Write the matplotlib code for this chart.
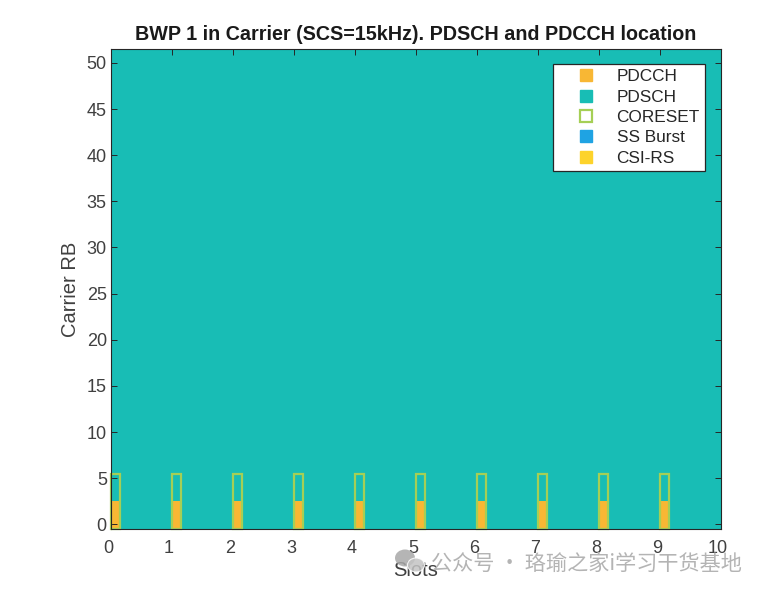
import matplotlib
matplotlib.use("Agg")
import matplotlib.pyplot as plt
from matplotlib.lines import Line2D
from matplotlib.patches import Ellipse, Rectangle
from matplotlib.transforms import ScaledTranslation

# Slots and RB extents
slots = [0, 1, 2, 3, 4, 5, 6, 7, 8, 9]
n_slots = 10
n_rb = 52
symbols_per_slot = 14
coreset_symbols = 2
coreset_rbs = 6
pdcch_rbs = 3

xticks = list(range(0, 11))
yticks = list(range(0, 51, 5))
legend_names = ["PDCCH", "PDSCH", "CORESET", "SS Burst", "CSI-RS"]

teal = "#18BDB5"
orange = "#F8B734"
green = "#A5CF55"
blue = "#1FA3E3"
yellow = "#FDD32B"
text_col = "#404040"

plt.rcParams["font.family"] = ["Liberation Sans", "DejaVu Sans"]

fig = plt.figure(figsize=(7.67, 5.93), dpi=100)
ax = fig.add_axes([111 / 767, 1 - 529 / 593, 610 / 767, 480 / 593])

ax.add_patch(Rectangle((0, -0.5), n_slots, n_rb, facecolor=teal, edgecolor="none", zorder=1))

width = coreset_symbols / symbols_per_slot
for slot in slots:
    ax.add_patch(Rectangle((slot, -0.5), width, pdcch_rbs, facecolor=orange,
                           edgecolor="none", zorder=2))
    ax.add_patch(Rectangle((slot, -0.5), width, coreset_rbs, facecolor="none",
                           edgecolor=green, linewidth=1.6, zorder=3, clip_on=False))

ax.set_xlim(0, n_slots)
ax.set_ylim(-0.5, n_rb - 0.5)
ax.set_xticks(xticks)
ax.set_yticks(yticks)
ax.tick_params(direction="in", top=True, right=True, length=4.5, width=0.7,
               color="#262626", labelsize=13, labelcolor=text_col, pad=3)
ax.tick_params(axis="x", pad=8)
# x tick labels sit a little left of their ticks in the reference
for label in ax.get_xticklabels():
    label.set_transform(label.get_transform() + ScaledTranslation(-3 / 100, 0, fig.dpi_scale_trans))
ax.set_axisbelow(False)
for spine in ax.spines.values():
    spine.set_color("#262626")
    spine.set_linewidth(0.8)
    spine.set_zorder(5)

ax.set_title("BWP 1 in Carrier (SCS=15kHz). PDSCH and PDCCH location",
             fontsize=14.2, fontweight="bold", color="#1a1a1a", pad=6.3)
ax.set_xlabel("Slots", fontsize=14.5, color=text_col, labelpad=3)
ax.set_ylabel("Carrier RB", fontsize=14.5, color=text_col, labelpad=4.5)

handles = [
    Line2D([], [], linestyle="none", marker="s", markersize=9, markerfacecolor=orange, markeredgecolor=orange),
    Line2D([], [], linestyle="none", marker="s", markersize=9, markerfacecolor=teal, markeredgecolor=teal),
    Line2D([], [], linestyle="none", marker="s", markersize=8, markerfacecolor="white",
           markeredgecolor=green, markeredgewidth=1.6),
    Line2D([], [], linestyle="none", marker="s", markersize=9, markerfacecolor=blue, markeredgecolor=blue),
    Line2D([], [], linestyle="none", marker="s", markersize=9, markerfacecolor=yellow, markeredgecolor=yellow),
]
leg = ax.legend(handles, legend_names, loc="upper right", fontsize=12.4, frameon=True,
                fancybox=False, framealpha=1, edgecolor="#262626", labelspacing=0.31,
                borderpad=0.3, handletextpad=0.1, handlelength=3.3, borderaxespad=0)
# legend box placed in figure pixels
leg.set_bbox_to_anchor((705 / 767, 1 - 64 / 593), transform=fig.transFigure)
leg.get_frame().set_linewidth(0.9)
leg.set_zorder(6)
for txt in leg.get_texts():
    txt.set_color("#262626")

# watermark laid over the x label
fig.add_artist(Ellipse((405 / 767, 1 - 558 / 593), 20 / 767, 17 / 593, facecolor="#a8a8a8",
                       edgecolor="none", transform=fig.transFigure, zorder=8, alpha=0.85))
fig.add_artist(Ellipse((416 / 767, 1 - 565 / 593), 17 / 767, 14 / 593, facecolor="#c4c4c4",
                       edgecolor="white", linewidth=0.8, transform=fig.transFigure, zorder=9, alpha=0.85))
fig.text(431 / 767, 1 - 564 / 593, "公众号 · 珞瑜之家i学习干货基地", fontsize=15.2,
         color="#b4b4b4", va="center", ha="left", zorder=10,
         family=["Noto Sans CJK SC", "DejaVu Sans"])

fig.savefig("out.png", dpi=100)
